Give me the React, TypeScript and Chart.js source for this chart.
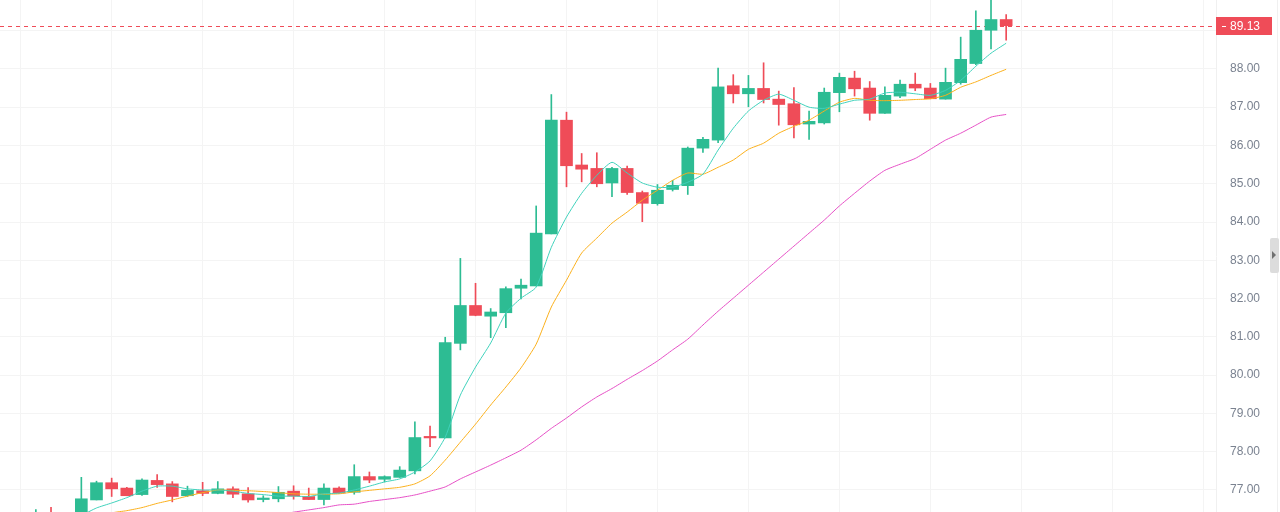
import React, { useEffect, useRef } from "react";
import { Chart, ChartConfiguration, registerables, Plugin } from "chart.js";

Chart.register(...registerables);

// candle slots: slot 0 is the first (mostly hidden) candle at the left edge
const opens = [
  76.2, 76.15, 76.35, 76.22,
  76.3, 76.74, 77.19, 77.05, 76.88, 77.25, 77.16, 76.85, 76.98, 76.91,
  77.03, 76.9, 76.75, 76.77, 76.97, 76.83, 76.75, 77.05, 76.94, 77.35,
  77.28, 77.33, 77.5, 78.4, 78.36, 80.83, 81.82, 81.54, 81.63, 82.27,
  82.33, 83.69, 86.66, 85.49, 85.4, 85.02, 85.4, 84.77, 84.48, 84.85,
  84.95, 85.93, 86.14, 87.56, 87.35, 87.49, 87.21, 87.09, 86.56, 86.59,
  87.38, 87.76, 87.5, 86.84, 87.29, 87.6, 87.5, 87.21, 87.64, 88.14,
  89.01, 89.29,
];
const highs = [
  76.38, 76.49, 76.55, 76.4,
  77.33, 77.23, 77.31, 77.07, 77.29, 77.4, 77.22, 77.1, 77.2, 77.22,
  77.08, 77.06, 76.85, 77.09, 77.11, 77.05, 77.16, 77.08, 77.66, 77.47,
  77.37, 77.61, 78.78, 78.67, 80.99, 83.05, 82.4, 81.74, 82.31, 82.51,
  84.42, 87.33, 86.87, 85.79, 85.81, 85.43, 85.46, 84.81, 84.98, 85.09,
  85.96, 86.21, 88.02, 87.85, 87.83, 88.16, 87.42, 87.51, 86.9, 87.5,
  87.89, 87.94, 87.67, 87.53, 87.71, 87.89, 87.62, 88.02, 88.83, 89.52,
  89.85, 89.42,
];
const lows = [
  76.05, 76.02, 76.1, 76.05,
  76.2, 76.74, 76.83, 76.85, 76.86, 77.07, 76.69, 76.83, 76.85, 76.9,
  76.8, 76.68, 76.69, 76.69, 76.76, 76.75, 76.61, 76.92, 76.89, 77.19,
  77.21, 77.33, 77.42, 78.13, 78.36, 80.66, 81.55, 80.98, 81.24, 81.99,
  82.33, 83.69, 84.92, 85.05, 84.92, 84.66, 84.72, 84.01, 84.44, 84.81,
  84.72, 85.82, 86.07, 87.11, 87.01, 87.11, 86.53, 86.2, 86.16, 86.56,
  86.88, 87.29, 86.66, 86.84, 87.25, 87.43, 87.22, 87.21, 87.6, 88.11,
  88.52, 88.75,
];
const closes = [
  76.3, 76.35, 76.2, 76.3,
  76.77, 77.19, 77.03, 76.85, 77.26, 77.14, 76.83, 76.99, 76.91, 77.03,
  76.89, 76.74, 76.79, 76.94, 76.84, 76.75, 77.05, 76.92, 77.35, 77.26,
  77.35, 77.52, 78.37, 78.36, 80.85, 81.82, 81.56, 81.65, 82.26, 82.35,
  83.71, 86.66, 85.47, 85.38, 85.0, 85.4, 84.77, 84.49, 84.83, 84.96,
  85.93, 86.16, 87.53, 87.35, 87.49, 87.2, 87.07, 86.54, 86.63, 87.39,
  87.78, 87.48, 86.84, 87.31, 87.6, 87.5, 87.22, 87.65, 88.25, 89.01,
  89.29, 89.13,
];

// moving averages, first value sits at the given slot
const ma5Start = 3;
const ma5 = [
  76.1, 76.33, 76.53, 76.66, 76.8, 76.97, 77.1, 77.1, 77.03, 77.0, 77.0,
  76.97, 76.91, 76.88, 76.84, 76.84, 76.83, 76.9, 76.92, 77.0, 77.1,
  77.21, 77.29, 77.47, 77.76, 78.38, 79.48, 80.21, 80.84, 81.62, 82.01,
  82.3, 83.34, 84.13, 84.75, 85.22, 85.56, 85.28, 85.02, 84.91, 84.91,
  85.04, 85.25, 85.88, 86.45, 86.9, 87.18, 87.34, 87.18, 87.0, 86.97,
  87.08, 87.18, 87.21, 87.37, 87.39, 87.35, 87.31, 87.44, 87.7, 88.07,
  88.41, 88.67,
];
const ma10Start = 4;
const ma10 = [
  76.1, 76.25, 76.4, 76.46, 76.54, 76.65, 76.74, 76.84, 76.93, 77.0,
  76.99, 76.98, 76.96, 76.93, 76.9, 76.89, 76.89, 76.9, 76.95, 76.99,
  77.03, 77.07, 77.16, 77.37, 77.78, 78.25, 78.72, 79.22, 79.69, 80.19,
  80.81, 81.78, 82.48, 83.19, 83.58, 83.97, 84.26, 84.57, 84.83, 85.09,
  85.28, 85.25, 85.43, 85.62, 85.9, 86.06, 86.32, 86.5, 86.66, 86.9,
  87.13, 87.23, 87.18, 87.17, 87.18, 87.2, 87.22, 87.31, 87.52, 87.66,
  87.83, 87.99,
];
const ma30Start = 14;
const ma30 = [
  76.2, 76.25, 76.3, 76.36, 76.42, 76.48, 76.54, 76.61, 76.63, 76.7,
  76.75, 76.8, 76.87, 76.97, 77.08, 77.29, 77.47, 77.65, 77.84, 78.04,
  78.31, 78.61, 78.88, 79.17, 79.43, 79.65, 79.89, 80.12, 80.37, 80.66,
  80.94, 81.31, 81.67, 82.01, 82.35, 82.69, 83.03, 83.37, 83.71, 84.05,
  84.42, 84.75, 85.07, 85.35, 85.51, 85.66, 85.9, 86.14, 86.32, 86.53,
  86.74, 86.81,
];

const yTicks = [77, 78, 79, 80, 81, 82, 83, 84, 85, 86, 87, 88, 89];
const xGridSlots = [0, 6, 12, 18, 24, 30, 36, 42, 48, 54, 60, 66, 72, 78];

const UP = "#2dbc93";
const DOWN = "#ef4c58";
const lastPrice = closes[closes.length - 1];

const candleColor = (i: number) => (closes[i] >= opens[i] ? UP : DOWN);

const priceLine: Plugin = {
  id: "priceLine",
  beforeDatasetsDraw(chart) {
    const { ctx, chartArea } = chart;
    const y = Math.round(chart.scales.y.getPixelForValue(lastPrice)) + 0.5;
    ctx.save();
    ctx.strokeStyle = DOWN;
    ctx.lineWidth = 1;
    ctx.setLineDash([4, 4]);
    ctx.beginPath();
    ctx.moveTo(chartArea.left, y);
    ctx.lineTo(chartArea.right, y);
    ctx.stroke();
    ctx.restore();
  },
  afterDraw(chart) {
    const { ctx, chartArea } = chart;
    const y = Math.round(chart.scales.y.getPixelForValue(lastPrice)) + 0.5;
    ctx.save();
    ctx.fillStyle = DOWN;
    ctx.fillRect(chartArea.right, Math.floor(y) - 9, 56, 18);
    ctx.fillStyle = "#ffffff";
    ctx.fillRect(chartArea.right + 6, Math.floor(y), 4, 1);
    ctx.font = '12px "Liberation Sans", Arial, sans-serif';
    ctx.textBaseline = "middle";
    ctx.fillText(lastPrice.toFixed(2), chartArea.right + 14, y);

    // side handle
    ctx.fillStyle = "#f0f0f0";
    ctx.fillRect(1277, 0, 1, 512);
    ctx.fillStyle = "#dcdcdc";
    ctx.beginPath();
    ctx.roundRect(1270, 238, 9, 35, 2);
    ctx.fill();
    ctx.fillStyle = "#707070";
    ctx.beginPath();
    ctx.moveTo(1272, 251);
    ctx.lineTo(1276, 255);
    ctx.lineTo(1272, 259);
    ctx.closePath();
    ctx.fill();
    ctx.restore();
  },
};

const CandleChart: React.FC = () => {
  const chartRef = useRef<HTMLCanvasElement | null>(null);

  useEffect(() => {
    document.body.style.margin = "0";
    if (!chartRef.current) return;

    const wicks = opens.map((_, i) => ({ x: i, y: [lows[i], highs[i]] }));
    const bodies = opens.map((o, i) => ({ x: i, y: [o, closes[i]] }));
    const line = (vals: number[], start: number) =>
      vals.map((v, i) => ({ x: start + i, y: v }));

    const lineStyle = {
      type: "line" as const,
      pointRadius: 0,
      pointHoverRadius: 0,
      pointHitRadius: 0,
      borderWidth: 1,
      fill: false,
      tension: 0.2,
      order: 0,
    };

    const chartConfig: ChartConfiguration = {
      type: "bar",
      data: {
        datasets: [
          {
            ...lineStyle,
            label: "MA5",
            data: line(ma5, ma5Start),
            borderColor: "#40d2bc",
          },
          {
            ...lineStyle,
            label: "MA10",
            data: line(ma10, ma10Start),
            borderColor: "#fbb01c",
          },
          {
            ...lineStyle,
            label: "MA30",
            data: line(ma30, ma30Start),
            borderColor: "#e650c6",
          },
          {
            type: "bar",
            label: "wick",
            data: wicks as any,
            backgroundColor: opens.map((_, i) => candleColor(i)),
            barThickness: 1,
            grouped: false,
            order: 2,
          },
          {
            type: "bar",
            label: "body",
            data: bodies as any,
            backgroundColor: opens.map((_, i) => candleColor(i)),
            barThickness: 12,
            grouped: false,
            order: 1,
          },
        ] as any,
      },
      options: {
        animation: false,
        responsive: false,
        layout: { padding: 0, autoPadding: false },
        plugins: {
          legend: { display: false },
          tooltip: { enabled: false },
        },
        scales: {
          x: {
            type: "linear",
            offset: false,
            min: -1.365,
            max: 78.84,
            afterBuildTicks: (scale) => {
              scale.ticks = xGridSlots.map((v) => ({ value: v }));
            },
            afterFit: (scale) => {
              scale.height = 0;
              scale.paddingLeft = 0;
              scale.paddingRight = 0;
            },
            ticks: { display: false },
            border: { display: false },
            grid: { color: "#f4f4f4", drawTicks: false, offset: false },
          },
          y: {
            type: "linear",
            position: "right",
            min: 76.425,
            max: 89.8,
            afterBuildTicks: (scale) => {
              scale.ticks = yTicks.map((v) => ({ value: v }));
            },
            afterFit: (scale) => {
              scale.width = 64;
              scale.paddingTop = 0;
              scale.paddingBottom = 0;
            },
            ticks: {
              padding: 14,
              color: "#7a8290",
              font: { family: '"Liberation Sans", Arial, sans-serif', size: 12 },
              callback: (v) => Number(v).toFixed(2),
            },
            border: { display: true, color: "#f0f0f0" },
            grid: { color: "#f4f4f4", drawTicks: false },
          },
        },
      },
      plugins: [priceLine],
    };

    const chart = new Chart(chartRef.current, chartConfig);

    return () => {
      chart.destroy();
    };
  }, []);

  return (
    <canvas
      ref={chartRef}
      width={1280}
      height={512}
      style={{ display: "block" }}
    ></canvas>
  );
};

export default function App() {
  return <CandleChart />;
}
